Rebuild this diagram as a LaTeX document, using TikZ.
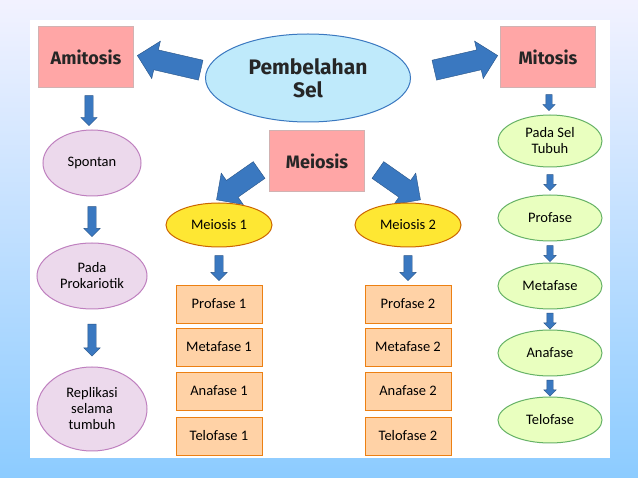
\documentclass[tikz,border=0pt]{standalone}
\usepackage{fontspec}
\setmainfont{Carlito}
\newfontfamily\titlefont{Fira Sans}
\usetikzlibrary{shapes.geometric,shapes.arrows,calc}
\definecolor{bluearr}{HTML}{3A78C0}
\tikzset{
  titlebox/.style={draw=red!40!black!30, fill=red!35, minimum width=95pt, minimum height=61pt, font=\titlefont\bfseries\fontsize{18}{20}\selectfont, text=black!85},
  purp/.style={ellipse, draw=violet!50, line width=1pt, fill=violet!15, align=center, font=\fontsize{14.5}{16}\selectfont},
  yel/.style={ellipse, draw=orange!80!black, line width=1pt, fill=yellow!85!orange!80, minimum width=106pt, minimum height=44pt, font=\fontsize{14.5}{16}\selectfont},
  grn/.style={ellipse, draw=green!50!black!60, line width=1pt, fill=green!35!yellow!25, minimum width=104pt, minimum height=46pt, align=center, font=\fontsize{14.5}{16}\selectfont},
  org/.style={draw=orange!70!brown, line width=0.8pt, fill=orange!35, minimum width=86pt, minimum height=38pt, font=\fontsize{14.5}{16}\selectfont},
  bigarr/.style={single arrow, draw=bluearr!70!black, fill=bluearr, minimum height=65pt, inner xsep=0pt, inner ysep=10pt, single arrow head extend=9pt},
  smarr/.style={single arrow, draw=bluearr!70!black, fill=bluearr, rotate=270, inner xsep=0pt, inner ysep=4pt, single arrow head extend=4pt},
}
\begin{document}
\begin{tikzpicture}[x=1pt,y=-1pt]
\shade[top color=blue!5, bottom color=blue!45!cyan!45] (0,0) rectangle (638,478);
\fill[white] (30,20) rectangle (610,458);
\useasboundingbox (0,0) rectangle (638,478);
\node[titlebox] (amit) at (86,57) {Amitosis};
\node[titlebox] (mit) at (548,57) {Mitosis};
\node[titlebox] (mei) at (317,161) {Meiosis};
\node[ellipse, draw=bluearr, line width=1pt, fill=cyan!25, minimum width=205pt, minimum height=88pt, align=center, font=\titlefont\bfseries\fontsize{21}{23}\selectfont, text=black!85] (ps) at (308,78) {Pembelahan\\Sel};
\node[bigarr, rotate=167] (a1) at (174,64) {};
\node[bigarr, rotate=13] (a2) at (461,64) {};
\node[bigarr, minimum height=52pt, rotate=215] (a3) at (242,182) {};
\node[bigarr, minimum height=52pt, rotate=325] (a4) at (395,182) {};
% amitosis column
\node[purp, minimum width=98pt, minimum height=66pt] (sp) at (92,163) {Spontan};
\node[purp, minimum width=110pt, minimum height=66pt] (pp) at (92,276) {Pada\\Prokariotik};
\node[purp, minimum width=110pt, minimum height=84pt] (rs) at (92,409) {Replikasi\\selama\\tumbuh};
\node[smarr, minimum height=30pt] at ($(amit.south)!0.5!(sp.north)$) {};
\node[smarr, minimum height=30pt] at ($(sp.south)!0.5!(pp.north)$) {};
\node[smarr, minimum height=32pt] at ($(pp.south)!0.5!(rs.north)$) {};
% meiosis
\node[yel] (m1) at (219,225) {Meiosis 1};
\node[yel] (m2) at (408,225) {Meiosis 2};
\foreach \c/\x/\n in {1/219/1, 2/408/2}{
  \node[org] (p\c) at (\x,304) {Profase \n};
  \node[org] (me\c) at (\x,347) {Metafase \n};
  \node[org] (an\c) at (\x,391) {Anafase \n};
  \node[org] (te\c) at (\x,436) {Telofase \n};
}
\node[smarr, minimum height=25pt] at ($(m1.south)!0.5!(p1.north)$) {};
\node[smarr, minimum height=25pt] at ($(m2.south)!0.5!(p2.north)$) {};
% mitosis
\node[grn, minimum height=52pt] (pst) at (550,141) {Pada Sel\\Tubuh};
\node[grn] (pr) at (550,218) {Profase};
\node[grn] (mf) at (550,286) {Metafase};
\node[grn] (af) at (550,353) {Anafase};
\node[grn] (tf) at (550,420) {Telofase};
\foreach \a/\b in {mit/pst, pst/pr, pr/mf, mf/af, af/tf}
  \node[smarr, minimum height=16pt, inner ysep=3pt, single arrow head extend=3pt] at ($(\a.south)!0.5!(\b.north)$) {};
\end{tikzpicture}
\end{document}
